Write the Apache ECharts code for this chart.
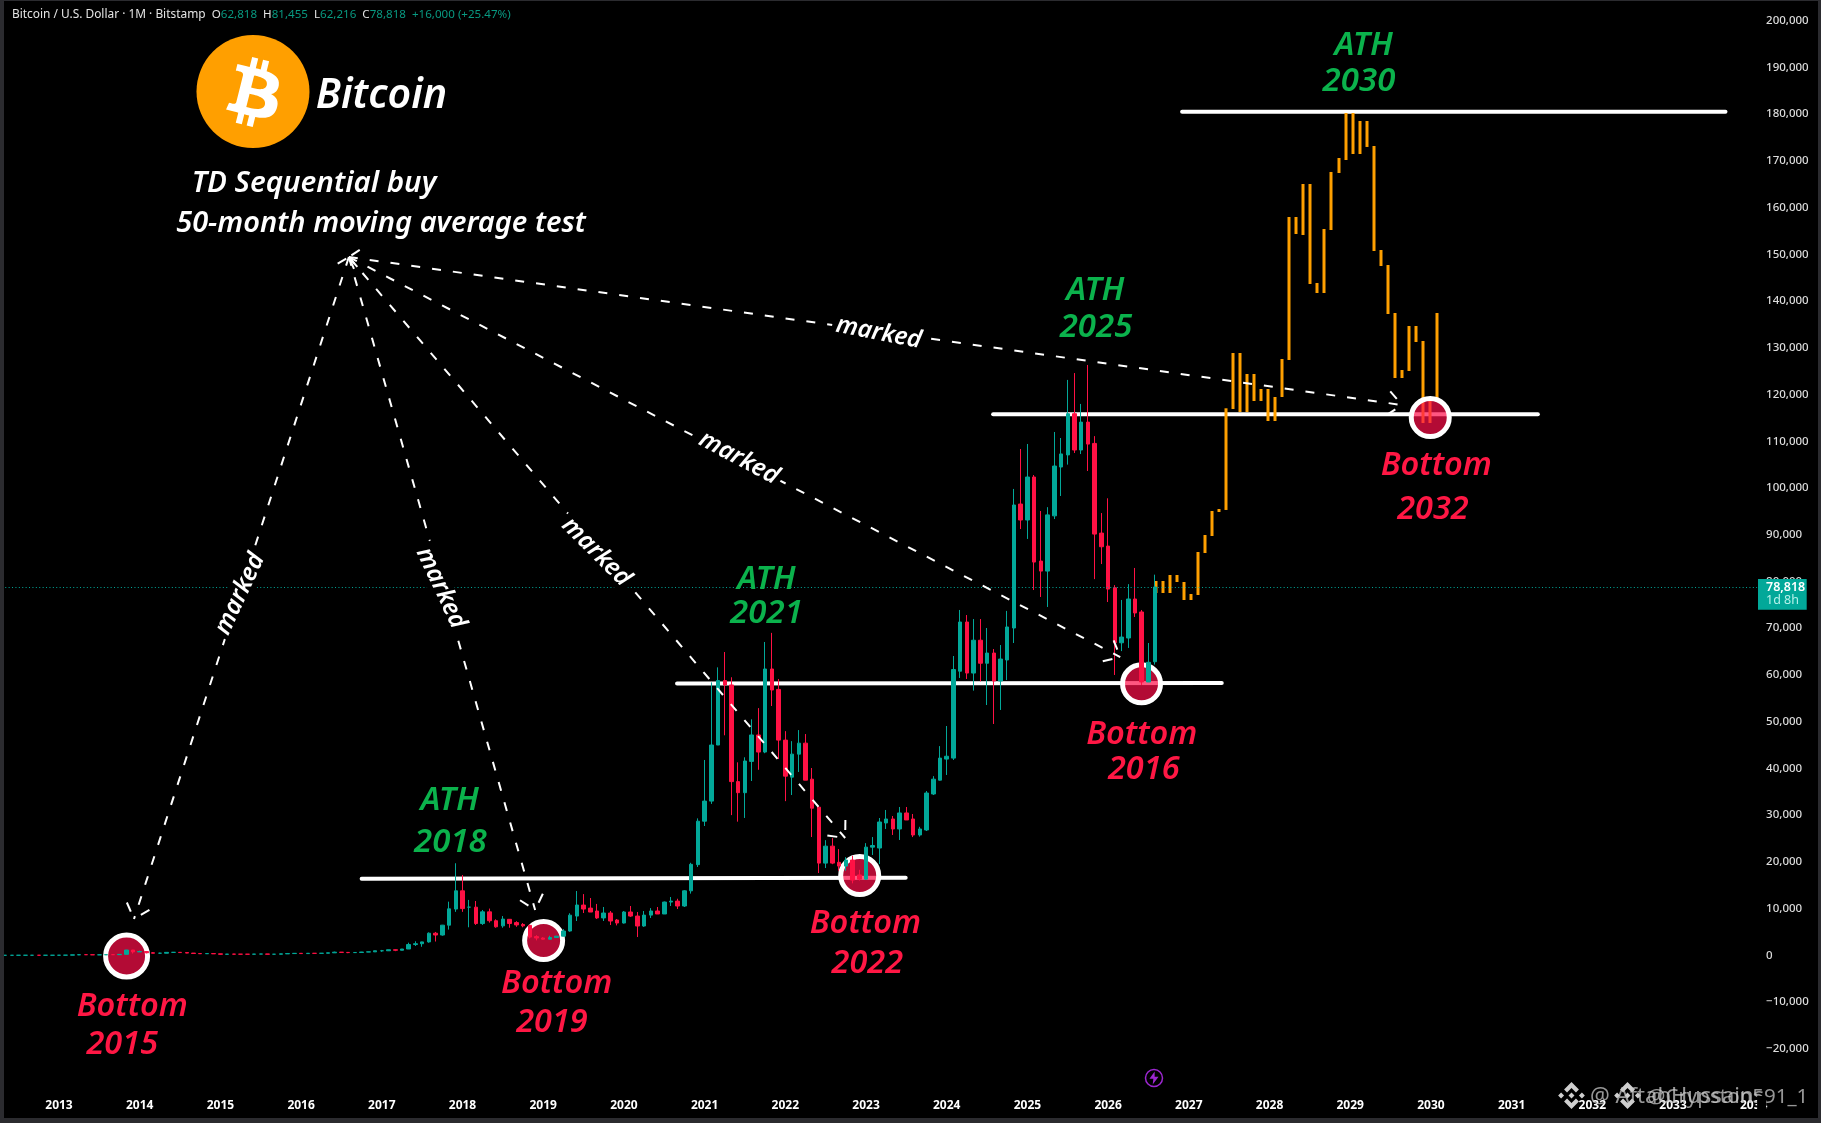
<!DOCTYPE html>
<html>
<head>
<meta charset="utf-8">
<style>html,body{margin:0;padding:0;background:#000;overflow:hidden}#main{width:1821px;height:1123px}</style>
<script src="https://cdn.jsdelivr.net/npm/echarts@6/dist/echarts.min.js"></script>
</head>
<body>
<div id="main"></div>
<script>
// ---------- monthly candles: May 2012 .. Aug 2026 ----------
const opens = [
 5,5.2,6.7,9.3,10.2,12.4,11.2,12.5,
 13,20,33,93,139,129,97,107,140,133,204,1130,
 730,800,550,450,450,630,640,585,480,388,338,378,
 320,217,254,244,236,230,263,284,230,236,311,377,
 430,368,437,416,448,531,673,624,575,608,700,740,
 968,970,1190,1080,1350,2300,2480,2870,4730,4340,6450,9900,
 13800,10300,10300,6800,9300,7400,6300,7700,7000,6600,6400,4000,
 3700,3450,3800,4100,5200,8400,10750,10100,9480,8000,9050,7550,
 6910,9270,8400,6270,8600,9480,8840,11400,11600,10550,13800,19400,
 28700,33000,45000,58800,57850,37170,34800,41500,47150,43500,61270,56900,
 46050,38130,43050,45400,37690,31700,19730,23360,19900,19090,20380,17200,
 16300,23150,22960,28320,29170,27030,30460,29170,25750,26820,34520,37480,
 41990,42200,60800,71320,60400,67430,62500,64680,58700,63200,70040,96570,
 93150,102350,84360,82220,94040,104490,107080,115900,108130,114100,109540,90350,
 87570,78650,66880,67900,76250,73470,58490,62818];
const closes = [
 5.2,6.7,9.3,10.2,12.4,11.2,12.5,13.5,
 20,33,93,139,129,97,107,140,133,204,1130,730,
 800,550,450,450,630,640,585,480,388,338,378,320,
 217,254,244,236,230,263,284,230,236,311,377,430,
 368,437,416,448,531,673,624,575,608,700,740,968,
 970,1190,1080,1350,2300,2480,2870,4730,4340,6450,9940,13800,
 10000,10300,6800,9300,7400,6100,7750,6800,6500,6300,3900,3700,
 3450,3800,4100,5200,8590,10760,9900,9260,8000,9050,7340,6910,
 9270,8400,6270,8600,9480,8840,11400,11600,10550,13800,19470,28700,
 33000,45000,58800,57850,37170,34800,41580,47150,43500,61270,56770,46050,
 38340,43050,45400,37480,31480,19730,23360,19730,19090,20380,16100,16300,
 23150,23500,28530,29170,27030,30460,28960,25750,27030,34730,37690,42200,
 42600,61150,71320,60400,67430,62500,64680,58700,63400,70260,96360,93150,
 102350,84150,82220,94250,104700,107290,115900,108130,114100,109400,90140,87430,
 78370,66880,68100,76250,73260,58490,62700,78818];
const lows = [
 4.9,5,6.5,9,10,10,10.5,12,
 13,20,33,50,80,65,65,90,120,120,190,380,
 730,420,440,340,430,525,560,440,360,275,320,310,
 152,215,235,214,228,221,255,198,225,235,300,350,
 360,365,400,415,440,525,605,465,570,605,680,735,
 750,920,890,1060,1350,2000,1830,2700,2950,4200,5500,9300,
 9300,6000,6500,6500,7000,5900,5900,5900,6100,6000,3600,3200,
 3350,3400,3700,4050,5050,7340,9050,9260,7770,7340,6480,6400,
 6800,8200,3910,6100,7990,8840,8840,10550,9900,10340,13200,18900,
 27670,32400,45000,47080,30000,28600,29390,37300,39700,43250,53350,41990,
 32990,34300,39230,37480,25310,17610,18680,19500,18100,18100,15400,16000,
 16200,21470,19530,27030,25750,24680,28960,25300,25400,26600,34300,37400,
 38590,41800,59350,59130,56640,58630,53560,49500,52500,58900,66830,91220,
 89100,78170,76680,74540,93360,98290,105000,107490,107270,103640,80500,83730,
 75600,59990,65100,65770,72400,57840,58490,62216];
const highs = [
 5.4,6.8,9.5,11,12.6,13,13,13.8,
 21,33,95,260,140,130,112,141,145,210,1165,1160,
 1000,830,700,550,630,680,650,600,490,420,400,385,
 320,270,300,260,245,270,295,285,245,330,500,465,
 460,445,440,470,540,780,680,625,610,735,755,980,
 1150,1200,1280,1350,2700,3000,2900,4900,5000,6500,11480,19700,
 17190,11850,11620,9700,10000,7700,8400,7750,7300,6900,6550,4300,
 3850,4180,4150,5600,9000,13760,13100,12260,10990,10340,9480,7770,
 9480,10550,9270,9480,10100,10340,11500,12480,12100,13950,19800,29300,
 41800,58400,61620,64900,59500,41300,42370,50500,52900,67050,69000,59130,
 47970,45830,48200,47350,40080,31910,24640,25070,22730,21000,21300,18300,
 24000,25310,29380,31100,29810,31740,31740,30240,27500,35160,38340,44770,
 49070,64050,73900,72820,71960,71960,70040,65540,66400,73700,99800,108350,
 109420,102780,95080,95900,111990,110700,123130,124600,117990,126330,111100,94640,
 97800,79220,76040,79430,82890,73900,66830,81455];

// ---------- projected (orange) path ----------
const projectionTops = [
 80100,80100,81380,81380,79890,77320,86310,89940,95080,95510,117060,128890,128890,124400,124400,121190,121190,119480,127610,
 158000,158000,165060,165060,143870,155430,167630,170620,180250,180250,178540,178540,173190,150930,147720,137450,125250,134670,134670,131460,118830,137450];
const projectionBottoms = [
 77530,77530,77530,79890,76030,76030,77100,86090,89730,94870,95300,116910,116270,116270,118620,118620,114340,114340,119480,
 127390,154360,154140,143660,141730,141730,155210,167410,170190,171480,171480,172980,150720,147510,137240,123540,123540,125040,131250,113910,113910,118830];

// ---------- annotations, in chart units (month from Jan 2013, price) ----------
const levelLines = [[167,180500,247.8,180500],[138.9,115800,219.9,115800],[91.9,58150,172.9,58250],[45,16400,125.9,16600]];
const bottomCircles = [[10.05,-150],[72.06,3170],[119.06,17070],[160.97,58100],[203.9,115080]];
const arrowTips = [[11.15,7760],[70.8,9690],[116.9,25100],[157.8,63830],[199.7,117760]];
const arrowOrigin = [43.1,149430];
const greenNotes = [[194,195000,'ATH'],[193.3,187300,'2030'],[154.1,142600,'ATH'],[154.2,134650,'2025'],[105.2,80750,'ATH'],[105.2,73450,'2021'],[58.1,33450,'ATH'],[58.2,24450,'2018']];
const redNotes = [[10.9,-10650,'Bottom'],[9.4,-18650,'2015'],[74,-5700,'Bottom'],[73.3,-14050,'2019'],[119.9,7120,'Bottom'],[120.2,-1350,'2022'],[161,47570,'Bottom'],[161.3,40150,'2016'],[204.8,105150,'Bottom'],[204.3,95720,'2032']];
const markedNotes = [[26.9,77750,'marked',65],[56.8,79050,'marked',-65],[79.9,86750,'marked',-45],[101.1,106850,'marked',-28],[121.9,133600,'marked',-11]];

const lastPrice = 78818;
const firstMonthIndex = -8, lastMonthIndex = 252;
const months = [];
for (let k = firstMonthIndex; k <= lastMonthIndex; k++) {
  const y = 2013 + Math.floor(k / 12), m = ((k % 12) + 12) % 12 + 1;
  months.push(y + '-' + String(m).padStart(2, '0'));
}
const candles = opens.map((o, i) => [o, closes[i], lows[i], highs[i]]);
const projection = projectionTops.map((t, j) => [163.08 + 1.0453 * j, t, projectionBottoms[j]]);

const TEAL = '#02a899', RED = '#ff1144', ORANGE = '#ffa000', NOTE = '"Noto Sans", "DejaVu Sans", sans-serif';

function customLayer(name, rows, z, render) {
  return { name, type: 'custom', xAxisIndex: 1, yAxisIndex: 0, z, clip: false, silent: true, data: rows, renderItem: render };
}
function noteLayer(name, rows, z, font, fill, extra) {
  return customLayer(name, rows.map(r => [r[0], r[1]]), z, (p, api) => {
    const r = rows[p.dataIndex], c = api.coord([r[0], r[1]]);
    return { type: 'text', x: c[0], y: c[1] + 2, rotation: (r[3] || 0) * Math.PI / 180, z2: 5,
      style: Object.assign({ text: r[2], font, fill, align: 'center', verticalAlign: 'middle' }, extra || {}) };
  });
}
function arrowHead(tip, from, L) {
  const a = Math.atan2(from[1] - tip[1], from[0] - tip[0]), s = 0.72;
  const pt = d => [tip[0] + L * Math.cos(a + d), tip[1] + L * Math.sin(a + d)];
  return [pt(s), pt(-s)].map(b => ({ type: 'line', shape: { x1: b[0], y1: b[1], x2: tip[0], y2: tip[1] },
    style: { stroke: '#fff', lineWidth: 2, lineDash: [10, 10] } }));
}

const logoB = 'M46.11 27.441c.636-4.258-2.606-6.547-7.039-8.074l1.438-5.768-3.512-.875-1.4 5.616c-.922-.23-1.87-.447-2.812-.662l1.41-5.653-3.509-.875-1.439 5.766c-.764-.174-1.514-.346-2.242-.527l.004-.018-4.842-1.209-.934 3.75s2.605.597 2.55.634c1.422.355 1.68 1.296 1.636 2.042l-1.638 6.571c.098.025.225.061.365.117l-.37-.092-2.297 9.205c-.174.432-.615 1.08-1.609.834.035.051-2.552-.637-2.552-.637l-1.743 4.02 4.57 1.139c.85.213 1.683.436 2.502.646l-1.453 5.835 3.507.875 1.44-5.772c.957.26 1.887.5 2.797.726L27.504 50.8l3.511.875 1.453-5.823c5.987 1.133 10.49.676 12.383-4.738 1.527-4.36-.075-6.875-3.225-8.516 2.294-.531 4.022-2.04 4.483-5.157zM38.087 38.69c-1.086 4.36-8.426 2.004-10.807 1.412l1.928-7.729c2.38.594 10.011 1.77 8.88 6.317zm1.085-11.312c-.99 3.966-7.1 1.951-9.083 1.457l1.748-7.01c1.983.494 8.367 1.416 7.335 5.553z';
const binance = 'M12 2 L17.5 7.5 L15.3 9.7 L12 6.4 L8.7 9.7 L6.5 7.5 Z M12 22 L6.5 16.5 L8.7 14.3 L12 17.6 L15.3 14.3 L17.5 16.5 Z M4.3 9.8 L6.5 12 L4.3 14.2 L2.1 12 Z M19.7 9.8 L21.9 12 L19.7 14.2 L17.5 12 Z M12 9.8 L14.2 12 L12 14.2 L9.8 12 Z';
const bolt = 'M13 2 L5 13 L11 13 L10 22 L19 10 L13 10 Z';

function headerGraphics() {
  const w = '#e4e4e4', g = '#089981', border = '#2b2b2f';
  const hdr = (t, x, y, size, weight) => ({ type: 'text', x, y, z: 90, style: { text: t, fill: '#fff', align: 'center', verticalAlign: 'middle',
    font: 'italic ' + weight + ' ' + size + 'px ' + NOTE } });
  const rect = (x, y, width, height, fill, z) => ({ type: 'rect', z: z || 100, shape: { x, y, width, height }, style: { fill } });
  return [
    rect(1757.1, 1096, 9, 18, '#000'),
    rect(0, 0, 1821, 1, border), rect(0, 0, 4, 1123, border), rect(1818, 0, 3, 1123, border), rect(0, 1118, 1821, 5, border),
    { type: 'text', x: 12, y: 15, z: 90, style: { text: '{a|Bitcoin / U.S. Dollar · 1M · Bitstamp  }{w|O}{g|62,818}{w|  H}{g|81,455}{w|  L}{g|62,216}{w|  C}{g|78,818}{g|  +16,000 (+25.47%)}',
      verticalAlign: 'middle', rich: { a: { fill: w, font: '11.9px ' + NOTE }, w: { fill: w, font: '11.6px ' + NOTE }, g: { fill: g, font: '11.6px ' + NOTE } } } },
    hdr('Bitcoin', 381.5, 96, 41, 600),
    hdr('TD Sequential buy', 314, 184, 29.5, 600),
    hdr('50-month moving average test', 381, 224, 29, 600),
    rect(1758, 579, 48.7, 30.7, TEAL, 95),
    { type: 'text', x: 1766, y: 587, z: 96, style: { text: '78,818', fill: '#fff', verticalAlign: 'middle', font: '600 12.5px ' + NOTE } },
    { type: 'text', x: 1766, y: 600.5, z: 96, style: { text: '1d 8h', fill: '#b5f1ea', verticalAlign: 'middle', font: '12.5px ' + NOTE } },
    { type: 'circle', z: 90, shape: { cx: 1154, cy: 1078, r: 8.5 }, style: { fill: 'none', stroke: '#9c27d0', lineWidth: 1.5 } },
    { type: 'text', x: 1590, y: 1097, z: 97, style: { text: '@ AftabHussains', fill: 'rgba(200,200,200,0.75)', verticalAlign: 'middle', font: '22px "Noto Sans"' } },
    { type: 'text', x: 1647, y: 1097, z: 97, style: { text: '@Crypston591_1', fill: 'rgba(200,200,200,0.75)', verticalAlign: 'middle', font: '20.5px "Noto Sans"' } }
  ];
}

const chart = echarts.init(document.getElementById('main'), null, { renderer: 'canvas', width: 1821, height: 1123 });
chart.setOption({
  animation: false,
  backgroundColor: '#000',
  grid: { left: 1.84, top: 0, width: 1755.25, height: 1095.5, containLabel: false },
  xAxis: [
    { type: 'category', data: months, boundaryGap: true, axisLine: { show: false }, axisTick: { show: false }, splitLine: { show: false },
      axisLabel: { show: true, color: '#fff', fontFamily: 'Noto Sans', fontSize: 12, fontWeight: 'bold', margin: 4, hideOverlap: false,
        interval: (i, v) => v.endsWith('-01'), formatter: v => v.slice(0, 4) } },
    { type: 'value', show: false, min: firstMonthIndex - 0.5, max: lastMonthIndex + 0.5, splitLine: { show: false } }
  ],
  yAxis: [{ type: 'value', position: 'right', min: -30000, max: 204430, interval: 10000, scale: true,
    axisLine: { show: false }, axisTick: { show: false }, splitLine: { show: false },
    axisLabel: { color: '#dcdcdc', fontFamily: 'Noto Sans', fontSize: 11.5, fontWeight: 500, margin: 9, showMinLabel: false, showMaxLabel: false, padding: [0, 0, 2, 0],
      formatter: v => (v < 0 ? '\u2212' : '') + Math.abs(v).toLocaleString('en-US') } }],
  graphic: { elements: headerGraphics() },
  series: [
    customLayer('levels', levelLines, 1, (p, api) => {
      const a = api.coord([api.value(0), api.value(1)]), b = api.coord([api.value(2), api.value(3)]);
      return { type: 'line', shape: { x1: a[0], y1: a[1], x2: b[0], y2: b[1] }, style: { stroke: '#fff', lineWidth: 4, lineCap: 'round' } };
    }),
    customLayer('projection', projection, 2, (p, api) => {
      const t = api.coord([api.value(0), api.value(1)]), b = api.coord([api.value(0), api.value(2)]);
      return { type: 'rect', shape: { x: Math.round(t[0]) - 1.5, y: t[1], width: 3, height: b[1] - t[1] }, style: { fill: ORANGE } };
    }),
    { name: 'bottoms', type: 'scatter', xAxisIndex: 1, yAxisIndex: 0, z: 3, silent: true, data: bottomCircles,
      symbol: 'circle', symbolSize: (v, p) => p.dataIndex === 0 ? 42 : 38,
      itemStyle: { color: 'rgba(255,16,76,0.7)', borderColor: '#fff', borderWidth: 5, opacity: 1 } },
    { name: 'BTCUSD', type: 'candlestick', xAxisIndex: 0, yAxisIndex: 0, z: 4, silent: true, barWidth: 4,
      data: candles,
      itemStyle: { color: TEAL, color0: RED, borderColor: TEAL, borderColor0: RED, borderWidth: 1 },
      markLine: { silent: true, symbol: 'none', animation: false, label: { show: false },
        lineStyle: { color: TEAL, width: 1, type: [1, 2.4] }, data: [{ yAxis: lastPrice }] } },
    customLayer('arrows', arrowTips, 5, (p, api) => {
      const tip = api.coord([api.value(0), api.value(1)]), o = api.coord(arrowOrigin);
      const kids = [{ type: 'line', shape: { x1: o[0], y1: o[1], x2: tip[0], y2: tip[1] }, style: { stroke: '#fff', lineWidth: 2, lineDash: [9, 12] } }].concat(arrowHead(tip, o, 18));
      return { type: 'group', children: (p.dataIndex === 0 || p.dataIndex === 4) ? kids.concat(arrowHead(o, tip, 13)) : kids };
    }),
    noteLayer('marked', markedNotes, 6, 'italic 600 24.5px ' + NOTE, '#fff', { backgroundColor: '#000', padding: [0, 4] }),
    noteLayer('ath', greenNotes, 6, 'italic 600 33px ' + NOTE, '#0bb24c'),
    noteLayer('bottom', redNotes, 6, 'italic 600 32.5px ' + NOTE, '#ff1744'),
    { name: 'icons', type: 'custom', xAxisIndex: 1, yAxisIndex: 0, z: 7, clip: false, silent: true, data: [[0, 0]],
      renderItem: () => ({ type: 'group', children: [
        { type: 'circle', shape: { cx: 253, cy: 91.5, r: 56.5 }, style: { fill: '#ff9f00' } },
        { type: 'path', z2: 2, shape: { pathData: logoB, x: 226, y: 57, width: 53, height: 70, layout: 'center' }, style: { fill: '#fff' } },
        { type: 'path', shape: { pathData: bolt, x: 1148, y: 1071.5, width: 12, height: 13, layout: 'center' }, style: { fill: '#9c27d0' } },
        { type: 'path', shape: { pathData: binance, x: 1558, y: 1082, width: 27, height: 27, layout: 'center' }, style: { fill: '#cfcfcf' } },
        { type: 'path', shape: { pathData: binance, x: 1614, y: 1082, width: 27, height: 27, layout: 'center' }, style: { fill: '#cfcfcf' } }
      ] }) }
  ]
});
</script>
</body>
</html>
